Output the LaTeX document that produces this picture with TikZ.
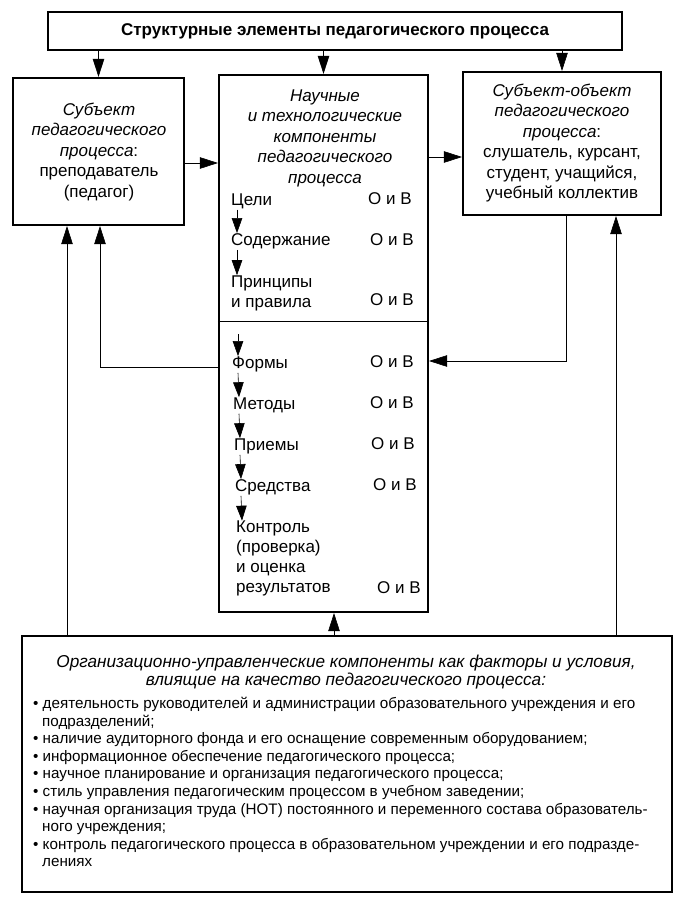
\documentclass[tikz,border=0pt]{standalone}
\usepackage{fontspec}
\setmainfont{Liberation Sans}
\usetikzlibrary{arrows.meta,calc}
\tikzset{
  boxed/.style={draw, line width=2.2pt, inner sep=0pt},
  con/.style={line width=0.6pt},
  arr/.style={con, -{Triangle[length=18pt,width=11.5pt]}},
  iarr/.style={con, -{Triangle[length=15pt,width=10.5pt]}},
  ctext/.style={align=center, inner sep=0pt, font=\fontsize{17}{20.5}\selectfont},
  item/.style={align=left, inner sep=0pt, anchor=west, font=\fontsize{17}{20}\selectfont},
  oiv/.style={inner sep=0pt, anchor=west, font=\fontsize{17}{20}\selectfont},
}
\begin{document}
\begin{tikzpicture}[x=1pt,y=-1pt]
\useasboundingbox (0,0) rectangle (691,917);
% boxes
\node[boxed, minimum width=574pt, minimum height=38pt, font=\bfseries\fontsize{17}{19}\selectfont] (title) at (335,31) {Структурные элементы педагогического процесса};
\node[boxed, minimum width=171pt, minimum height=147pt] (left) at (98.5,151.5) {};
\node[boxed, minimum width=209pt, minimum height=537pt] (middle) at (323.5,343.5) {};
\node[boxed, minimum width=198pt, minimum height=143pt] (right) at (562,143.5) {};
\node[boxed, minimum width=650pt, minimum height=256pt] (bottom) at (347,764) {};
% box texts
\node[ctext] (lefttext) at (99,152) {\textit{Субъект}\\\textit{педагогического}\\\textit{процесса}:\\преподаватель\\(педагог)};
\node[ctext] (righttext) at (562,143) {\textit{Субъект-объект}\\\textit{педагогического}\\\textit{процесса}:\\слушатель, курсант,\\студент, учащийся,\\учебный коллектив};
\node[ctext] (midhead) at (325,138) {\textit{Научные}\\\textit{и технологические}\\\textit{компоненты}\\\textit{педагогического}\\\textit{процесса}};
% middle items
\node[item] (celi) at (231,201) {Цели};
\node[oiv] (o1) at (368,199) {О и В};
\node[item] (sod) at (231,241) {Содержание};
\node[oiv] (o2) at (370,240) {О и В};
\node[item] (princ) at (231,293) {Принципы\\и правила};
\node[oiv] (o3) at (370,300) {О и В};
\node[item] (formy) at (232,364) {Формы};
\node[oiv] (o4) at (370,362) {О и В};
\node[item] (metody) at (233,405) {Методы};
\node[oiv] (o5) at (370,403) {О и В};
\node[item] (priemy) at (234,446) {Приемы};
\node[oiv] (o6) at (371,444) {О и В};
\node[item] (sredstva) at (235,487) {Средства};
\node[oiv] (o7) at (373,485) {О и В};
\node[item] (kontrol) at (236,558.5) {Контроль\\(проверка)\\и оценка\\результатов};
\node[oiv] (o8) at (377,588) {О и В};
% separator
\coordinate (sepc) at (0,321);
\draw[line width=0.8pt] (middle.west |- sepc) -- (middle.east |- sepc);
% inner arrows
\draw[iarr] ($(celi.south west)+(6,1)$) -- ($(sod.north west)+(6,0)$);
\draw[iarr] ($(sod.south west)+(6,1)$) -- ($(princ.north west)+(6,0)$);
\draw[iarr] ($(formy.north west)+(6,-22)$) -- ($(formy.north west)+(6,0)$);
\draw[iarr] ($(formy.south west)+(6,1)$) -- ($(metody.north west)+(6,0)$);
\draw[iarr] ($(metody.south west)+(6,1)$) -- ($(priemy.north west)+(6,0)$);
\draw[iarr] ($(priemy.south west)+(6,1)$) -- ($(sredstva.north west)+(6,0)$);
\draw[iarr] ($(sredstva.south west)+(6,1)$) -- ($(kontrol.north west)+(6,0)$);
% title arrows
\draw[arr] (title.south -| left.north) -- (left.north);
\draw[arr] (title.south -| middle.north) -- (middle.north);
\draw[arr] (title.south -| right.north) -- (right.north);
% horizontal arrows
\coordinate (hA) at (0,163);
\coordinate (hB) at (0,157);
\draw[arr] (left.east |- hA) -- (middle.west |- hA);
\draw[arr] (middle.east |- hB) -- (right.west |- hB);
% feedback
\coordinate (fbL) at (100,367);
\coordinate (fbR) at (566,361);
\draw[arr] (middle.west |- fbL) -| (left.south -| fbL);
\draw[arr] (right.south -| fbR) |- (middle.east |- fbR);
% from bottom box
\coordinate (uL) at (67,0);
\coordinate (uM) at (334,0);
\coordinate (uR) at (616,0);
\draw[arr] (bottom.north -| uL) -- (left.south -| uL);
\draw[arr] (bottom.north -| uM) -- (middle.south -| uM);
\draw[arr] (bottom.north -| uR) -- (right.south -| uR);
% bottom texts
\node[align=center, inner sep=0pt, font=\itshape\fontsize{17.2}{18.5}\selectfont] (bothead) at (346,672) {Организационно-управленческие компоненты как факторы и условия,\\влиящие на качество педагогического процесса:};
\node[align=left, inner sep=0pt, anchor=north west, font=\fontsize{15.2}{17.6}\selectfont] (botlist) at (33,697) {%
•\ деятельность руководителей и администрации образовательного учреждения и его\\
\hspace*{9pt}подразделений;\\
•\ наличие аудиторного фонда и его оснащение современным оборудованием;\\
•\ информационное обеспечение педагогического процесса;\\
•\ научное планирование и организация педагогического процесса;\\
•\ стиль управления педагогическим процессом в учебном заведении;\\
•\ научная организация труда (НОТ) постоянного и переменного состава образователь-\\
\hspace*{9pt}ного учреждения;\\
•\ контроль педагогического процесса в образовательном учреждении и его подразде-\\
\hspace*{9pt}лениях};
\end{tikzpicture}
\end{document}
